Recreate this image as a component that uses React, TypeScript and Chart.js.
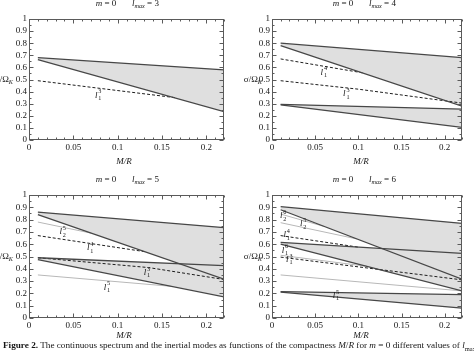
import React, { useEffect, useRef } from "react";
import { Chart, registerables } from "chart.js";

Chart.register(...registerables);

const SERIF = '"Liberation Serif", "DejaVu Serif", serif';

// ---------- axis ticks ----------
const xTickValues = [0, 0.05, 0.1, 0.15, 0.2];
const xTickLabels = ["0", "0.05", "0.1", "0.15", "0.2"];
const yTickValues = [0, 0.1, 0.2, 0.3, 0.4, 0.5, 0.6, 0.7, 0.8, 0.9, 1];
const yTickLabels = ["0", "0.1", "0.2", "0.3", "0.4", "0.5", "0.6", "0.7", "0.8", "0.9", "1"];

// ---------- data (x = M/R, y = sigma/Omega_K) ----------
const bandX = [0.01, 0.22];

// l_max = 3
const p3BandTop = [0.68, 0.58];
const p3BandLow = [0.665, 0.235];
const p3DashL13X = [0.01, 0.165];
const p3DashL13Y = [0.49, 0.35];

// l_max = 4
const p4BandATop = [0.8, 0.68];
const p4BandALow = [0.78, 0.28];
const p4BandBTop = [0.295, 0.255];
const p4BandBLow = [0.29, 0.105];
const p4DashL14X = [0.01, 0.105];
const p4DashL14Y = [0.67, 0.555];
const p4DashL13X = [0.01, 0.1, 0.22];
const p4DashL13Y = [0.49, 0.42, 0.305];

// l_max = 5
const p5BandATop = [0.86, 0.735];
const p5BandALow = [0.84, 0.315];
const p5BandBTop = [0.49, 0.425];
const p5BandBLow = [0.475, 0.172];
const p5DashL14X = [0.01, 0.13];
const p5DashL14Y = [0.67, 0.54];
const p5DashL13X = [0.01, 0.135, 0.22];
const p5DashL13Y = [0.49, 0.41, 0.313];
const p5GreyL25X = [0.01, 0.07];
const p5GreyL25Y = [0.78, 0.69];
const p5GreyL15X = [0.01, 0.16];
const p5GreyL15Y = [0.35, 0.258];

// l_max = 6
const p6BandATop = [0.905, 0.77];
const p6BandALow = [0.88, 0.315];
const p6BandBTop = [0.615, 0.525];
const p6BandBLow = [0.6, 0.22];
const p6BandCTop = [0.215, 0.19];
const p6BandCLow = [0.21, 0.08];
const p6DashL14X = [0.01, 0.1];
const p6DashL14Y = [0.67, 0.576];
const p6DashL13X = [0.01, 0.22];
const p6DashL13Y = [0.495, 0.31];
const p6GreyL26X = [0.01, 0.06];
const p6GreyL26Y = [0.845, 0.745];
const p6GreyL25X = [0.01, 0.098];
const p6GreyL25Y = [0.775, 0.643];
const p6GreyL16X = [0.01, 0.11];
const p6GreyL16Y = [0.51, 0.42];
const p6GreyL15X = [0.01, 0.22];
const p6GreyL15Y = [0.35, 0.22];

// mode labels: [sub, sup, x, y]
const p3Labels: [string, string, number, number][] = [["1", "3", 0.078, 0.37]];
const p4Labels: [string, string, number, number][] = [
  ["1", "4", 0.06, 0.56],
  ["1", "3", 0.086, 0.38],
];
const p5Labels: [string, string, number, number][] = [
  ["2", "5", 0.038, 0.7],
  ["1", "4", 0.069, 0.57],
  ["1", "3", 0.133, 0.37],
  ["1", "5", 0.088, 0.25],
];
const p6Labels: [string, string, number, number][] = [
  ["2", "6", 0.013, 0.83],
  ["2", "5", 0.036, 0.765],
  ["1", "4", 0.017, 0.675],
  ["1", "6", 0.015, 0.55],
  ["1", "3", 0.02, 0.475],
  ["1", "5", 0.074, 0.18],
];

// ---------- styles ----------
const FILL = "#dfdfdf";
const BAND_LINE = "#474747";
const DASH_LINE = "#1e1e1e";
const GREY_LINE = "#b8b8b8";
const FRAME = "#5a5a5a";
const TEXT = "#151515";

type Band = { top: number[]; low: number[] };
type Line = { xs: number[]; ys: number[] };
type Panel = {
  lmax: string;
  left: number;
  top: number;
  width: number;
  height: number;
  yAxisW: number;
  yTitleRight: number;
  xTitleDy: number;
  pad: { left: number; right: number; top: number; bottom: number };
  bands: Band[];
  dashed: Line[];
  grey: Line[];
  labels: [string, string, number, number][];
};

const panels: Panel[] = [
  {
    lmax: "3",
    left: 0,
    top: 0,
    width: 237,
    height: 175,
    yAxisW: 29,
    yTitleRight: 13,
    xTitleDy: 22,
    pad: { left: 0, right: 13, top: 19, bottom: 19 },
    bands: [{ top: p3BandTop, low: p3BandLow }],
    dashed: [{ xs: p3DashL13X, ys: p3DashL13Y }],
    grey: [],
    labels: p3Labels,
  },
  {
    lmax: "4",
    left: 237,
    top: 0,
    width: 237,
    height: 175,
    yAxisW: 35,
    yTitleRight: 25,
    xTitleDy: 22,
    pad: { left: 0, right: 12, top: 19, bottom: 19 },
    bands: [
      { top: p4BandATop, low: p4BandALow },
      { top: p4BandBTop, low: p4BandBLow },
    ],
    dashed: [
      { xs: p4DashL14X, ys: p4DashL14Y },
      { xs: p4DashL13X, ys: p4DashL13Y },
    ],
    grey: [],
    labels: p4Labels,
  },
  {
    lmax: "5",
    left: 0,
    top: 175,
    width: 237,
    height: 176,
    yAxisW: 29,
    yTitleRight: 13,
    xTitleDy: 18,
    pad: { left: 0, right: 13, top: 20, bottom: 17 },
    bands: [
      { top: p5BandATop, low: p5BandALow },
      { top: p5BandBTop, low: p5BandBLow },
    ],
    dashed: [
      { xs: p5DashL14X, ys: p5DashL14Y },
      { xs: p5DashL13X, ys: p5DashL13Y },
    ],
    grey: [
      { xs: p5GreyL25X, ys: p5GreyL25Y },
      { xs: p5GreyL15X, ys: p5GreyL15Y },
    ],
    labels: p5Labels,
  },
  {
    lmax: "6",
    left: 237,
    top: 175,
    width: 237,
    height: 176,
    yAxisW: 35,
    yTitleRight: 25,
    xTitleDy: 18,
    pad: { left: 0, right: 12, top: 20, bottom: 17 },
    bands: [
      { top: p6BandATop, low: p6BandALow },
      { top: p6BandBTop, low: p6BandBLow },
      { top: p6BandCTop, low: p6BandCLow },
    ],
    dashed: [
      { xs: p6DashL14X, ys: p6DashL14Y },
      { xs: p6DashL13X, ys: p6DashL13Y },
    ],
    grey: [
      { xs: p6GreyL26X, ys: p6GreyL26Y },
      { xs: p6GreyL25X, ys: p6GreyL25Y },
      { xs: p6GreyL16X, ys: p6GreyL16Y },
      { xs: p6GreyL15X, ys: p6GreyL15Y },
    ],
    labels: p6Labels,
  },
];

function drawPartsLeft(
  ctx: CanvasRenderingContext2D,
  parts: { t: string; f: string; dy?: number }[],
  x0: number,
  cy: number
) {
  let x = x0;
  ctx.textAlign = "left";
  ctx.textBaseline = "middle";
  parts.forEach((p) => {
    ctx.font = p.f;
    ctx.fillText(p.t, x, cy + (p.dy || 0));
    x += ctx.measureText(p.t).width;
  });
}

function partsWidth(ctx: CanvasRenderingContext2D, parts: { t: string; f: string }[]) {
  let w = 0;
  parts.forEach((p) => {
    ctx.font = p.f;
    w += ctx.measureText(p.t).width;
  });
  return w;
}

function makeDecor(panel: Panel) {
  return {
    id: "decor" + panel.lmax,
    afterDraw(chart: any) {
      const { ctx, chartArea: a, scales } = chart;
      const xs = scales.x;
      const ys = scales.y;
      ctx.save();
      // frame
      const L = Math.floor(a.left) + 0.5;
      const R = Math.floor(a.right) - 0.5;
      const T = Math.floor(a.top) + 0.5;
      const B = Math.floor(a.bottom) - 0.5;
      ctx.strokeStyle = FRAME;
      ctx.lineWidth = 1;
      ctx.strokeRect(L, T, R - L, B - T);
      // inward ticks
      ctx.beginPath();
      for (let i = 0; i <= 22; i++) {
        const px = Math.round(xs.getPixelForValue(i / 100)) + 0.5;
        const len = i % 5 === 0 ? 4 : 2;
        ctx.moveTo(px, B);
        ctx.lineTo(px, B - len);
        ctx.moveTo(px, T);
        ctx.lineTo(px, T + len);
      }
      for (let i = 0; i <= 20; i++) {
        const py = Math.round(ys.getPixelForValue(i / 20)) + 0.5;
        const len = i % 2 === 0 ? 4 : 2;
        ctx.moveTo(L, py);
        ctx.lineTo(L + len, py);
        ctx.moveTo(R, py);
        ctx.lineTo(R - len, py);
      }
      ctx.stroke();

      ctx.fillStyle = TEXT;
      const reg = `9px ${SERIF}`;
      const ital = `italic 9px ${SERIF}`;
      const small = `6.2px ${SERIF}`;
      const smallI = `italic 6.2px ${SERIF}`;
      // title
      const mParts = [
        { t: "m", f: ital },
        { t: " = 0", f: reg },
      ];
      const mw = partsWidth(ctx, mParts);
      drawPartsLeft(ctx, mParts, 106 - mw / 2, a.top - 15);
      drawPartsLeft(
        ctx,
        [
          { t: "l", f: ital },
          { t: "max", f: smallI, dy: 2 },
          { t: " = " + panel.lmax, f: reg },
        ],
        132,
        a.top - 15
      );
      // x-axis title
      {
        const p = [{ t: "M/R", f: ital }];
        const w = partsWidth(ctx, p);
        drawPartsLeft(ctx, p, 124 - w / 2, a.bottom + panel.xTitleDy);
      }
      // y-axis title
      {
        ctx.font = reg;
        const w1 = ctx.measureText("σ/Ω").width;
        ctx.font = smallI;
        const w2 = ctx.measureText("K").width;
        const right = panel.yTitleRight;
        const cy = ys.getPixelForValue(0.5);
        ctx.textAlign = "left";
        ctx.textBaseline = "middle";
        ctx.font = reg;
        ctx.fillText("σ/Ω", right - w1 - w2, cy);
        ctx.font = smallI;
        ctx.fillText("K", right - w2, cy + 2.5);
      }
      // mode labels
      panel.labels.forEach(([sub, sup, vx, vy]) => {
        const px = xs.getPixelForValue(vx);
        const py = ys.getPixelForValue(vy);
        ctx.font = ital;
        const wl = ctx.measureText("l").width;
        ctx.font = small;
        const ws = Math.max(ctx.measureText(sub).width, ctx.measureText(sup).width);
        const x0 = px - (wl + 0.8 + ws) / 2;
        ctx.textAlign = "left";
        ctx.textBaseline = "middle";
        ctx.font = ital;
        ctx.fillText("l", x0, py);
        ctx.font = small;
        ctx.fillText(sup, x0 + wl + 0.8, py - 3.5);
        ctx.fillText(sub, x0 + wl + 0.8, py + 3);
      });
      ctx.restore();
    },
  };
}

function buildDatasets(panel: Panel) {
  const ds: any[] = [];
  panel.bands.forEach((b) => {
    ds.push({
      data: bandX.map((x, i) => ({ x, y: b.top[i] })),
      borderColor: BAND_LINE,
      borderWidth: 1.3,
      backgroundColor: FILL,
      fill: "+1",
      pointRadius: 0,
    });
    ds.push({
      data: bandX.map((x, i) => ({ x, y: b.low[i] })),
      borderColor: BAND_LINE,
      borderWidth: 1.3,
      fill: false,
      pointRadius: 0,
    });
  });
  panel.dashed.forEach((l) => {
    ds.push({
      data: l.xs.map((x, i) => ({ x, y: l.ys[i] })),
      borderColor: DASH_LINE,
      borderWidth: 1,
      borderDash: [3, 2],
      fill: false,
      pointRadius: 0,
    });
  });
  panel.grey.forEach((l) => {
    ds.push({
      data: l.xs.map((x, i) => ({ x, y: l.ys[i] })),
      borderColor: GREY_LINE,
      borderWidth: 1,
      fill: false,
      pointRadius: 0,
    });
  });
  return ds;
}

function PanelChart({ panel }: { panel: Panel }) {
  const ref = useRef<HTMLCanvasElement | null>(null);
  useEffect(() => {
    if (!ref.current) return;
    const tickFont = { family: SERIF, size: 9 };
    const chart = new Chart(ref.current, {
      type: "line",
      data: { datasets: buildDatasets(panel) },
      options: {
        animation: false,
        responsive: false,
        maintainAspectRatio: false,
        events: [],
        layout: { padding: panel.pad },
        plugins: {
          legend: { display: false },
          tooltip: { enabled: false },
          title: { display: false },
          filler: { drawTime: "beforeDatasetsDraw" },
        } as any,
        elements: { line: { tension: 0 } },
        scales: {
          x: {
            type: "linear",
            min: 0,
            max: 0.22,
            border: { display: false },
            grid: { display: false, drawTicks: false },
            ticks: {
              font: tickFont,
              color: TEXT,
              padding: 2,
              autoSkip: false,
              maxRotation: 0,
              includeBounds: false,
              callback: (_v: any, i: number) => xTickLabels[i],
            },
            afterBuildTicks: (s: any) => {
              s.ticks = xTickValues.map((v) => ({ value: v }));
            },
            afterFit: (s: any) => {
              s.height = 16;
            },
          },
          y: {
            type: "linear",
            min: 0,
            max: 1,
            border: { display: false },
            grid: { display: false, drawTicks: false },
            ticks: {
              font: tickFont,
              color: TEXT,
              padding: 2,
              autoSkip: false,
              includeBounds: false,
              callback: (_v: any, i: number) => yTickLabels[i],
            },
            afterBuildTicks: (s: any) => {
              s.ticks = yTickValues.map((v) => ({ value: v }));
            },
            afterFit: (s: any) => {
              s.width = panel.yAxisW;
            },
          },
        } as any,
      },
      plugins: [makeDecor(panel)],
    });
    return () => chart.destroy();
  }, [panel]);
  return (
    <canvas
      ref={ref}
      width={panel.width}
      height={panel.height}
      style={{
        position: "absolute",
        left: panel.left,
        top: panel.top,
        width: panel.width,
        height: panel.height,
      }}
    />
  );
}

export default function App() {
  return (
    <div
      style={{
        position: "fixed",
        left: 0,
        top: 0,
        width: 474,
        height: 351,
        background: "#ffffff",
        overflow: "hidden",
      }}
    >
      {panels.map((p) => (
        <PanelChart key={p.lmax} panel={p} />
      ))}
      <div
        style={{
          position: "absolute",
          left: 3,
          top: 340,
          whiteSpace: "nowrap",
          fontFamily: SERIF,
          fontSize: "9.2px",
          lineHeight: "10px",
          color: TEXT,
        }}
      >
        <b>Figure 2.</b> The continuous spectrum and the inertial modes as functions of the compactness{" "}
        <i>M</i>/<i>R</i> for <i>m</i> = 0 different values of <i>l</i>
        <sub style={{ fontSize: "6.5px", lineHeight: 0 }}>max</sub>.
      </div>
    </div>
  );
}
